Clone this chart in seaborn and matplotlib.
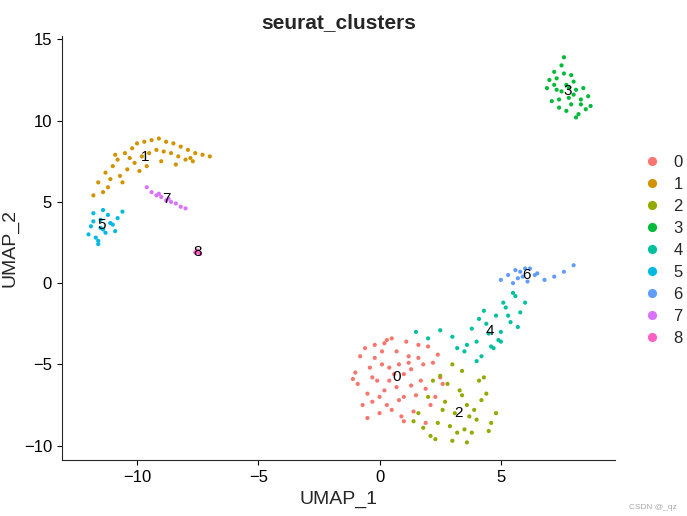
import matplotlib
matplotlib.use("Agg")
import matplotlib.pyplot as plt
import seaborn as sns
import pandas as pd

clusters = ["0","1","2","3","4","5","6","7","8"]
palette = ["#F8766D","#D39200","#93AA00","#00BA38","#00C19F","#00B9E3","#619CFF","#DB72FB","#FF61C3"]

c0_x = [-1.0,-0.8,-0.5,-0.2,0.1,0.4,0.7,1.0,1.3,1.6,1.9,2.2,2.5,-0.9,-0.6,-0.3,0.0,0.3,0.6,0.9,1.2,1.5,1.8,2.1,2.4,-0.7,-0.4,-0.1,0.2,0.5,0.8,1.1,1.4,1.7,2.0,-0.5,-0.2,0.1,0.4,0.7,1.0,1.3,1.6,0.0,0.5,1.0,-1.1,2.6,0.3,0.8,1.2,-0.3,2.3,1.9,0.2]
c0_y = [-5.5,-4.5,-6.8,-3.8,-5.0,-6.0,-4.2,-7.0,-5.3,-3.8,-6.5,-4.9,-5.8,-6.2,-4.0,-7.3,-8.0,-3.5,-5.6,-8.2,-4.5,-6.9,-5.0,-7.5,-4.4,-7.5,-5.2,-6.0,-6.6,-7.8,-5.0,-3.6,-7.9,-6.0,-3.9,-8.3,-4.6,-4.2,-5.2,-6.4,-8.5,-6.3,-4.6,-7.0,-3.4,-5.6,-5.9,-6.2,-7.5,-7.2,-4.9,-5.8,-7.0,-8.6,-3.7]
c1_x = [-11.8,-11.6,-11.3,-11.0,-10.8,-10.5,-10.2,-10.0,-9.7,-9.4,-9.1,-8.8,-8.5,-8.2,-7.9,-7.6,-7.3,-7.0,-11.4,-11.1,-10.7,-10.4,-10.1,-9.8,-9.5,-9.2,-8.9,-8.6,-8.3,-8.0,-7.7,-10.9,-10.3,-9.6,-9.0,-8.4,-7.8,-11.2,-10.6,-9.9]
c1_y = [5.4,6.2,6.8,7.2,7.6,8.0,8.3,8.6,8.7,8.8,8.9,8.7,8.6,8.4,8.2,8.0,7.9,7.8,5.6,6.4,6.6,7.0,7.4,7.8,8.0,8.2,8.1,8.0,7.8,7.6,7.5,7.9,7.7,7.2,7.5,7.3,7.7,5.9,6.2,6.9]
c2_x = [1.6,2.0,2.4,2.8,3.2,3.6,4.0,4.4,4.8,1.8,2.2,2.6,3.0,3.4,3.8,4.2,4.6,2.1,2.5,2.9,3.3,3.7,4.1,4.5,2.7,3.1,3.5,3.9,3.0,3.4,2.3,4.3,1.4,3.6]
c2_y = [-8.0,-7.0,-8.6,-6.2,-9.2,-7.5,-8.4,-6.8,-8.0,-8.9,-6.0,-7.8,-9.7,-5.4,-9.2,-7.2,-8.6,-9.4,-5.7,-8.8,-6.6,-8.2,-6.0,-9.1,-7.3,-8.0,-9.0,-7.8,-5.0,-6.9,-9.6,-5.8,-8.5,-9.8]
c3_x = [6.9,7.1,7.3,7.5,7.7,7.9,8.1,8.3,8.5,8.7,7.0,7.2,7.4,7.6,7.8,8.0,8.2,8.4,8.6,7.3,7.5,7.7,7.9,8.1,8.3,7.4,7.6,7.2,8.0,7.8]
c3_y = [12.0,11.2,12.6,11.8,12.2,11.0,11.9,11.3,10.7,10.9,12.5,13.0,10.8,12.9,11.4,12.4,10.4,12.0,11.5,11.9,13.4,10.6,12.8,10.2,11.0,11.3,13.9,12.2,11.6,12.0]
c4_x = [1.5,2.0,2.5,3.0,3.5,3.8,4.0,4.2,4.4,4.6,4.8,5.0,5.2,5.4,5.6,5.8,6.0,3.6,4.1,4.5,4.9,5.3,5.7,4.3,4.7,5.1,5.5,3.2,4.0,5.0]
c4_y = [-3.0,-3.4,-2.9,-3.3,-4.2,-2.8,-3.6,-4.5,-2.5,-3.9,-2.0,-3.0,-1.5,-2.4,-0.8,-1.8,-1.2,-3.8,-2.2,-3.1,-3.5,-2.0,-2.7,-1.7,-4.0,-1.2,-0.6,-4.0,-4.8,-3.6]
c5_x = [-12.0,-11.8,-11.6,-11.4,-11.2,-11.0,-10.8,-10.6,-11.7,-11.5,-11.3,-11.1,-11.9,-11.6,-11.4,-10.9,-11.8,-11.5]
c5_y = [3.0,3.8,2.4,3.3,4.2,3.6,4.0,4.4,2.8,3.9,3.1,3.7,3.5,2.6,4.5,3.2,4.3,3.4]
c6_x = [5.0,5.3,5.6,5.9,6.2,6.5,6.8,5.5,5.8,6.1,6.4,7.2,7.6,8.0,6.0,5.7]
c6_y = [0.2,0.5,0.8,0.4,0.9,0.6,0.2,0.0,0.7,0.1,0.5,0.4,0.7,1.1,0.9,0.3]
c7_x = [-9.6,-9.4,-9.2,-9.0,-8.8,-8.6,-8.4,-8.2,-8.0,-9.1,-8.7]
c7_y = [5.9,5.6,5.4,5.3,5.1,5.0,4.9,4.7,4.6,5.5,5.2]
c8_x = [-7.6,-7.5,-7.4,-7.5]
c8_y = [1.9,2.0,1.8,1.9]

xs = [c0_x,c1_x,c2_x,c3_x,c4_x,c5_x,c6_x,c7_x,c8_x]
ys = [c0_y,c1_y,c2_y,c3_y,c4_y,c5_y,c6_y,c7_y,c8_y]
rows = []
for c, xl, yl in zip(clusters, xs, ys):
    for a, b in zip(xl, yl):
        rows.append((a, b, c))
df = pd.DataFrame(rows, columns=["UMAP_1","UMAP_2","cluster"])

sns.set_style("ticks")
plt.rcParams['font.family'] = ['Liberation Sans', 'DejaVu Sans']
fig, ax = plt.subplots(figsize=(6.87, 5.16), dpi=100)
fig.subplots_adjust(left=0.09, right=0.895, top=0.93, bottom=0.108)
sns.scatterplot(data=df, x="UMAP_1", y="UMAP_2", hue="cluster", hue_order=clusters,
                palette=palette, s=9, linewidth=0, ax=ax)
for c in clusters:
    sub = df[df.cluster == c]
    ax.text(sub.UMAP_1.median(), sub.UMAP_2.median(), c, fontsize=11, ha="center", va="center", color="black")
ax.set_xlim(-13.1, 9.7)
ax.set_ylim(-10.9, 15.2)
ax.set_xticks([-10,-5,0,5]); ax.set_yticks([-10,-5,0,5,10,15])
ax.tick_params(labelsize=12, colors="black")
ax.set_xlabel("UMAP_1", fontsize=14); ax.set_ylabel("UMAP_2", fontsize=14)
ax.set_title("seurat_clusters", fontsize=15, fontweight="bold")
sns.despine(ax=ax)
handles, labels = ax.get_legend_handles_labels()
ax.get_legend().remove()
fig.legend(handles, labels, title=None, frameon=False, loc="center left", bbox_to_anchor=(0.915, 0.515),
           markerscale=2.2, fontsize=12, handletextpad=0.3, labelspacing=0.42, borderaxespad=0)
fig.text(0.985, 0.01, "CSDN @_qz", fontsize=6, color="#aaaaaa", ha="right", va="bottom")
fig.savefig("out.png", dpi=100)
